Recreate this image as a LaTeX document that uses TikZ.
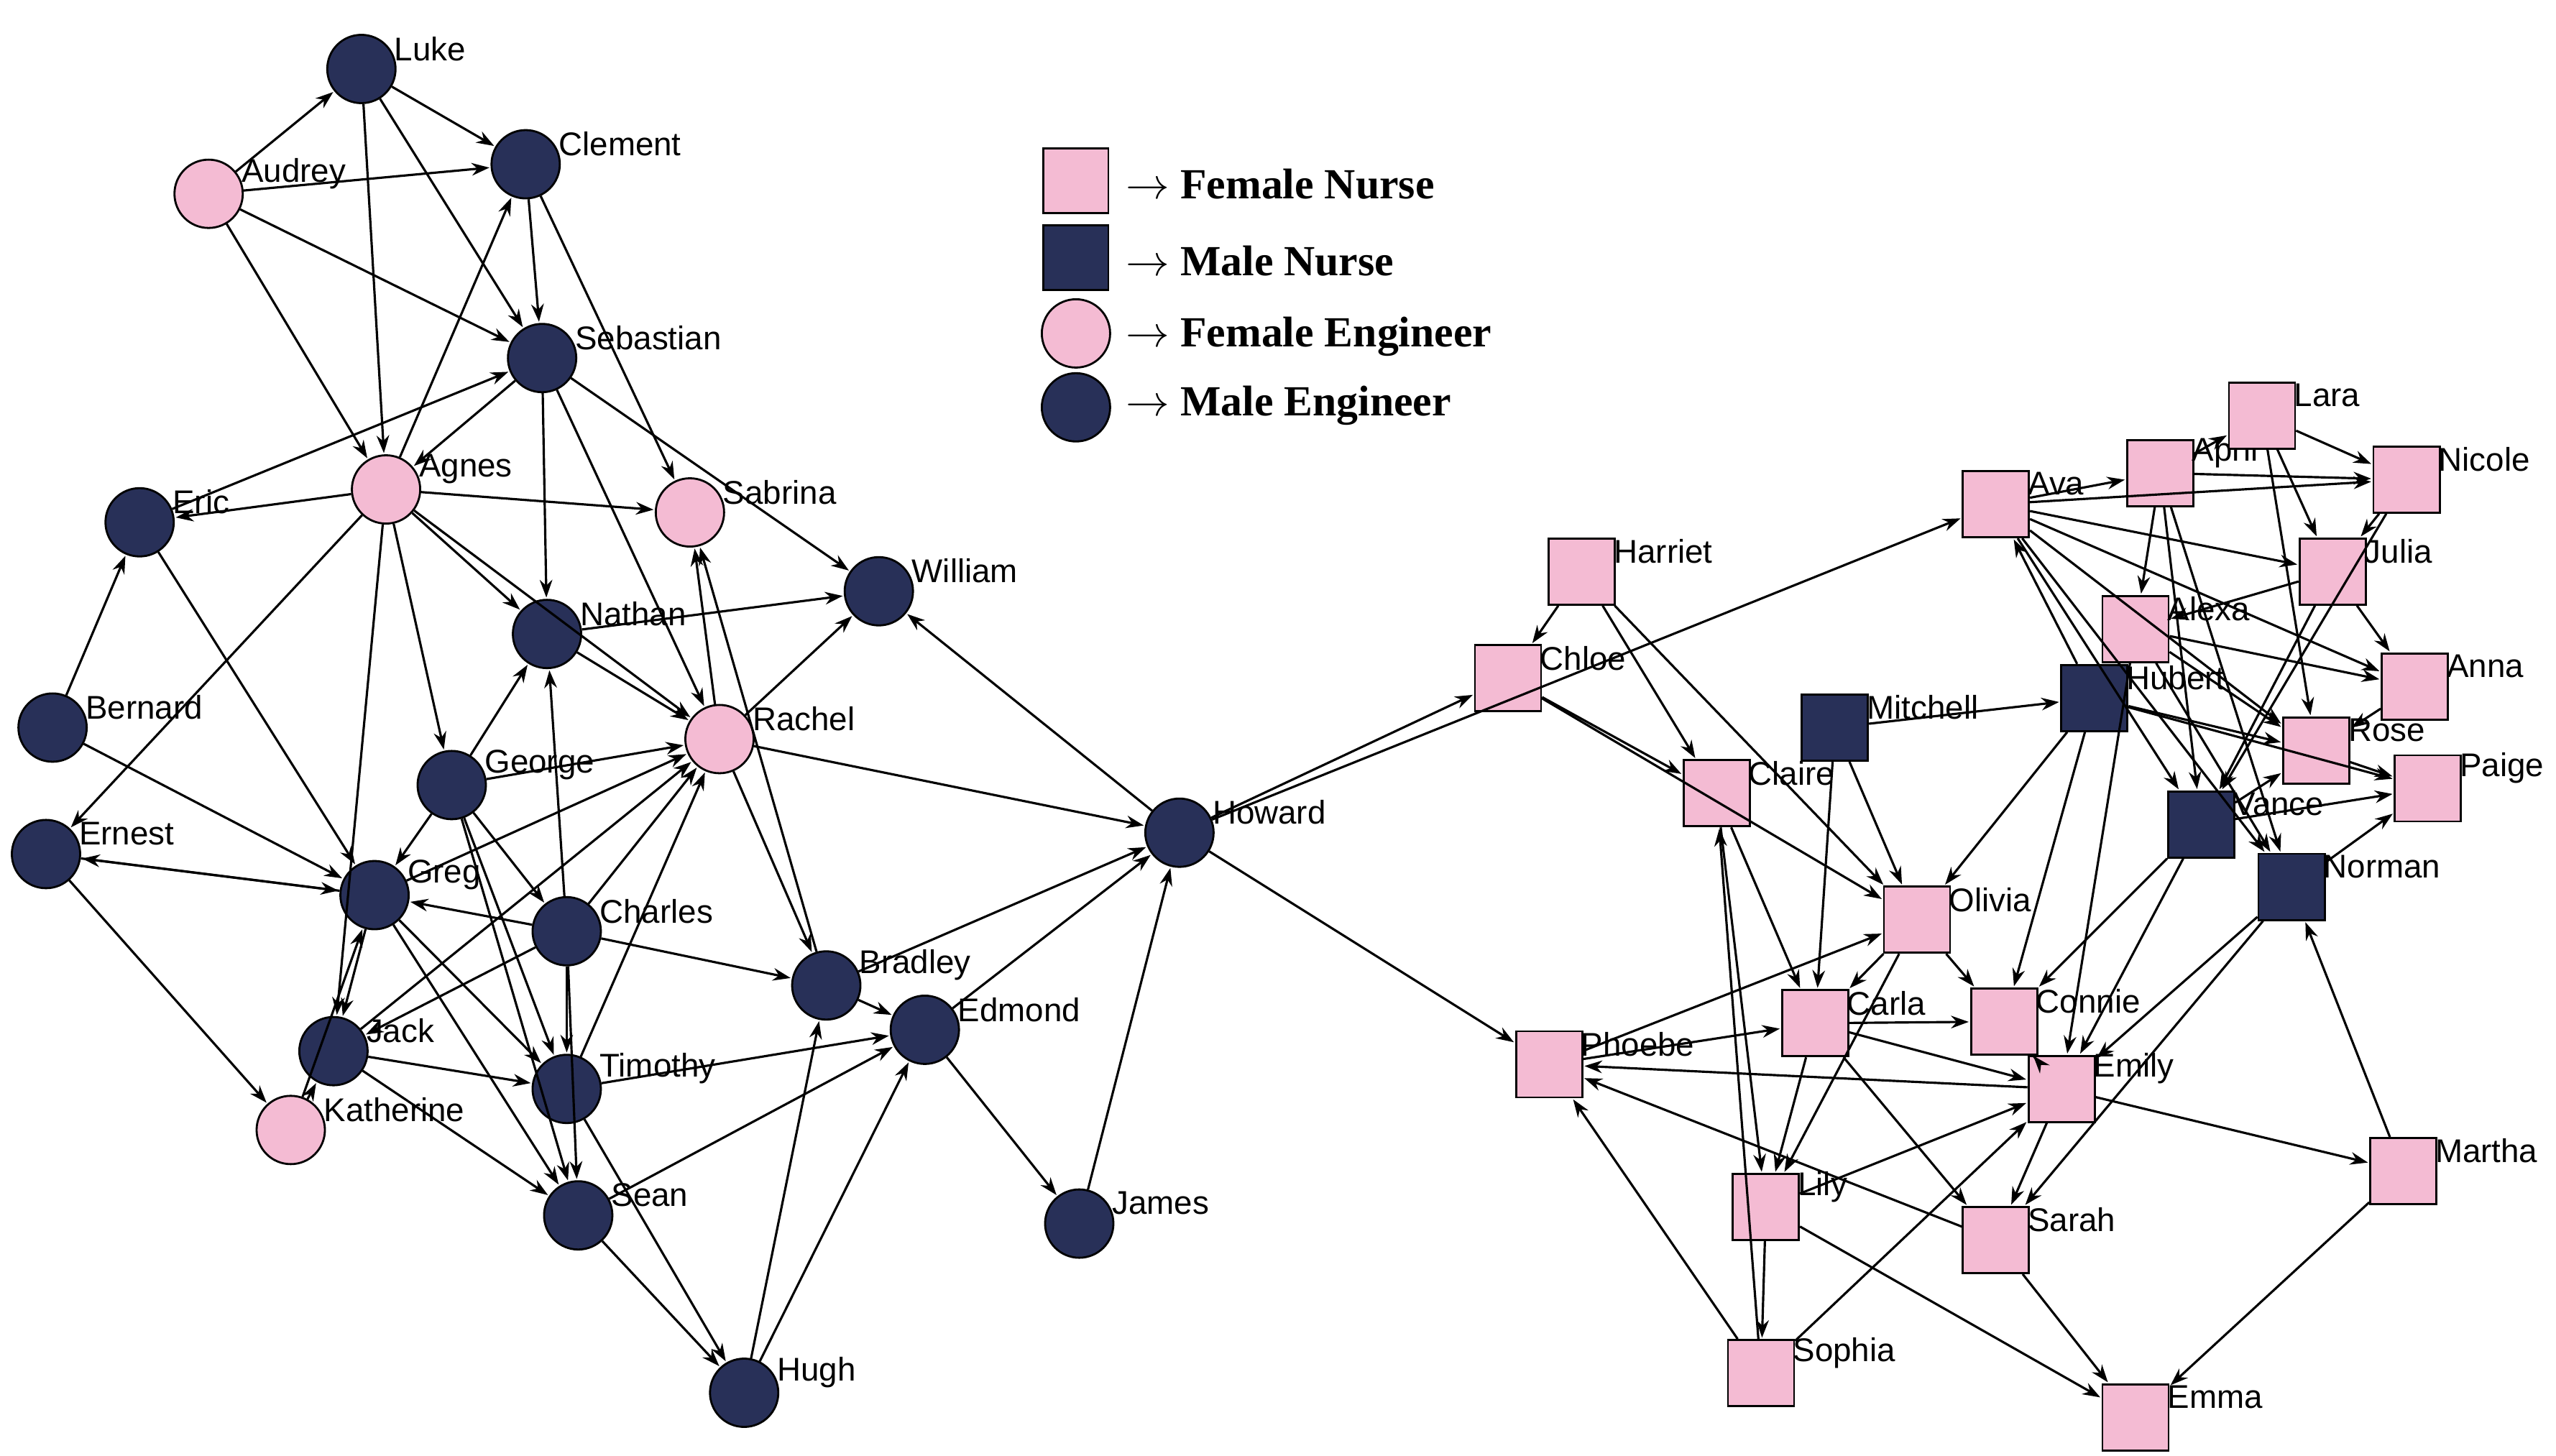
\documentclass[tikz,border=0pt]{standalone}
\usepackage{fontspec}
\setmainfont{Liberation Sans}
\newfontfamily\legendfont{Liberation Serif}
\usetikzlibrary{arrows.meta,positioning}
\definecolor{navy}{HTML}{283058}
\definecolor{rosa}{HTML}{F4BBD3}
\tikzset{
  eng/.style={circle,draw=black,line width=0.8pt,minimum size=0.95cm,inner sep=0pt},
  nur/.style={rectangle,draw=black,line width=0.8pt,minimum size=0.92cm,inner sep=0pt},
  female/.style={fill=rosa},
  male/.style={fill=navy},
  lbl/.style={label={[font=\fontsize{13}{15}\selectfont,anchor=west,inner sep=0pt,xshift=-1pt,yshift=8pt]east:#1}},
  tie/.style={-{Stealth[length=7pt,width=5pt]},line width=0.9pt,shorten >=0.5pt},
  key/.style={font=\legendfont\bfseries\fontsize{17}{20}\selectfont,anchor=west}
}
\begin{document}
\begin{tikzpicture}[x=0.02285cm,y=-0.02285cm]
\useasboundingbox (0,0) rectangle (1556,886.5);

% engineers
\foreach \n/\x/\y/\g in {Luke/220/42/male,Clement/320/100/male,Audrey/127/118/female,
  Sebastian/330/218/male,Agnes/235/298/female,Sabrina/420/312/female,Eric/85/318/male,
  William/535/360/male,Nathan/333/386/male,Rachel/438/450/female,Bernard/32/443/male,
  George/275/478/male,Ernest/28/520/male,Greg/228/545/male,Charles/345/567/male,
  Howard/718/507/male,Bradley/503/600/male,Edmond/563/627/male,Jack/203/640/male,
  Timothy/345/663/male,Katherine/177/688/female,Sean/352/740/male,James/657/745/male,
  Hugh/453/848/male}
  \node[eng,\g,lbl=\n] (\n) at (\x,\y) {};

% nurses
\foreach \n/\x/\y/\g in {Harriet/963/348/female,Chloe/918/413/female,Ava/1215/307/female,
  April/1315/288/female,Lara/1377/253/female,Nicole/1465/292/female,Julia/1420/348/female,
  Alexa/1300/383/female,Anna/1470/418/female,Mitchell/1117/443/male,Hubert/1275/425/male,
  Rose/1410/457/female,Paige/1478/480/female,Claire/1045/483/female,Vance/1340/502/male,
  Norman/1395/540/male,Olivia/1167/560/female,Carla/1105/623/female,Connie/1220/622/female,
  Phoebe/943/648/female,Emily/1255/663/female,Martha/1463/713/female,Lily/1075/735/female,
  Sarah/1215/755/female,Sophia/1072/836/female,Emma/1300/863/female}
  \node[nur,\g,lbl=\n] (\n) at (\x,\y) {};

% ties
\foreach \a/\b in {Luke/Clement,Audrey/Luke,Luke/Agnes,Luke/Sebastian,Audrey/Clement,
  Clement/Sebastian,Agnes/Clement,Clement/Sabrina,Audrey/Sebastian,Audrey/Agnes,
  Sebastian/Agnes,Eric/Sebastian,Sebastian/Nathan,Sebastian/Rachel,Sebastian/William,
  Agnes/Eric,Agnes/Sabrina,Agnes/Nathan,Agnes/George,Agnes/Ernest,Agnes/Jack,Agnes/Rachel,
  Eric/Greg,Bernard/Eric,Bernard/Greg,Ernest/Greg,Ernest/Katherine,Nathan/William,
  Nathan/Rachel,George/Nathan,Charles/Nathan,Rachel/Sabrina,Bradley/Sabrina,
  Rachel/Bradley,Rachel/William,Rachel/Howard,George/Rachel,Greg/Rachel,Jack/Rachel,
  Charles/Rachel,Timothy/Rachel,George/Timothy,George/Sean,George/Greg,Charles/Greg,
  Greg/Jack,Greg/Sean,Greg/Timothy,Katherine/Greg,Charles/Timothy,Charles/Jack,
  Charles/Bradley,Charles/Sean,Jack/Timothy,Jack/Sean,Timothy/Edmond,Sean/Edmond,
  Sean/Hugh,Timothy/Hugh,Hugh/Bradley,Hugh/Edmond,Bradley/Edmond,Bradley/Howard,
  Edmond/Howard,Edmond/James,James/Howard,Howard/William,Howard/Chloe,Howard/Ava,
  Howard/Phoebe,Katherine/Jack,Greg/Ernest,George/Charles}
  \draw[tie] (\a) -- (\b);
\foreach \a/\b in {Harriet/Chloe,Harriet/Claire,Harriet/Olivia,Chloe/Claire,Chloe/Olivia,
  Mitchell/Olivia,Mitchell/Carla,Mitchell/Hubert,Claire/Lily,Claire/Carla,Olivia/Carla,
  Olivia/Connie,Phoebe/Olivia,Hubert/Olivia,Olivia/Lily,Hubert/Connie,Hubert/Ava,
  Hubert/Rose,Hubert/Paige,Ava/Julia,Ava/Nicole,Ava/Rose,Ava/Vance,Ava/Norman,Ava/Anna,
  Ava/April,April/Lara,April/Nicole,April/Vance,April/Alexa,Lara/Nicole,Lara/Julia,
  Nicole/Julia,Julia/Anna,Julia/Alexa,Julia/Vance,Alexa/Anna,Alexa/Rose,Alexa/Norman,
  Alexa/Emily,Anna/Rose,Rose/Paige,Vance/Rose,Vance/Paige,Norman/Paige,Vance/Emily,
  Vance/Connie,Norman/Emily,Norman/Sarah,Martha/Norman,Phoebe/Carla,Emily/Phoebe,
  Sophia/Phoebe,Sarah/Phoebe,Carla/Connie,Carla/Emily,Carla/Lily,Carla/Sarah,
  Connie/Emily,Lily/Emily,Sophia/Emily,Emily/Martha,Emily/Sarah,Lily/Sophia,Lily/Emma,
  Sarah/Emma,Martha/Emma,Sophia/Claire,Nicole/Vance,April/Norman,Lara/Rose}
  \draw[tie] (\a) -- (\b);

% legend
\node[nur,female,minimum size=0.9cm] (kFN) at (655,110) {};
\node[nur,male,minimum size=0.9cm] (kMN) at (655,157) {};
\node[eng,female,minimum size=0.95cm] (kFE) at (655,203) {};
\node[eng,male,minimum size=0.95cm] (kME) at (655,248) {};
\node[key] at (680,112) {$\rightarrow$ Female Nurse};
\node[key] at (680,159) {$\rightarrow$ Male Nurse};
\node[key] at (680,205) {$\rightarrow$ Female Engineer};
\node[key] at (680,247) {$\rightarrow$ Male Engineer};
\end{tikzpicture}
\end{document}
